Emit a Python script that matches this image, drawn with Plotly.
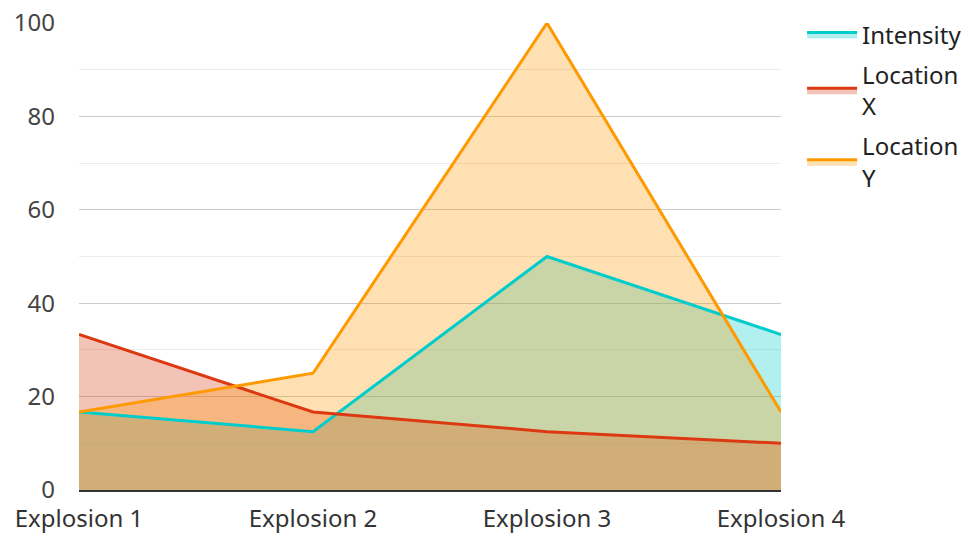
import plotly.graph_objects as go

categories = ["Explosion 1", "Explosion 2", "Explosion 3", "Explosion 4"]
intensity = [16.7, 12.5, 50, 33.3]
location_x = [33.3, 16.7, 12.5, 10]
location_y = [16.7, 25, 100, 16.7]

series = [
    ("Intensity", intensity, "#00cccc", "rgba(0,204,204,0.3)"),
    ("Location<br>X", location_x, "#dc3912", "rgba(220,57,18,0.3)"),
    ("Location<br>Y", location_y, "#ff9900", "rgba(255,153,0,0.3)"),
]

fig = go.Figure()
# fills first
for name, vals, col, fcol in series:
    fig.add_trace(go.Scatter(
        x=categories, y=vals, mode="lines", line=dict(width=0, color=fcol),
        fill="tozeroy", fillcolor=fcol, showlegend=False, legendgroup=name,
        hoverinfo="skip",
    ))
# lines on top
for name, vals, col, fcol in series:
    fig.add_trace(go.Scatter(
        x=categories, y=vals, name=name, mode="lines",
        line=dict(color=col, width=3), showlegend=False, legendgroup=name,
    ))
# legend entries
for name, vals, col, fcol in series:
    fig.add_trace(go.Scatter(
        x=[categories[0]], y=[None], name=name, mode="lines",
        line=dict(color=col, width=3), fill="tozeroy", fillcolor=fcol,
        showlegend=True, legendgroup=name,
    ))

# page body has an 8px margin: figure is 963x525 placed at (8, 8)
fig.update_layout(
    width=963, height=525,
    margin=dict(l=71, r=190, t=15, b=43, autoexpand=False),
    paper_bgcolor="white", plot_bgcolor="white",
    font=dict(family="Noto Sans", size=24, color="#333"),
    legend=dict(x=0.8246, y=0.9916, xref="container", yref="container",
                xanchor="left", yanchor="top",
                font=dict(size=24, color="#222"), tracegroupgap=6,
                itemwidth=50),
    showlegend=True,
)
fig.update_xaxes(
    range=[0, 3], showgrid=False, showline=True, linecolor="#333", linewidth=2,
    ticks="", tickfont=dict(size=24, color="#333"), fixedrange=True,
    automargin=False, ticklabelstandoff=6, ticklabeloverflow="allow",
)
fig.update_yaxes(
    range=[0, 100], dtick=20, showgrid=True, gridcolor="#cccccc", gridwidth=1,
    minor=dict(dtick=10, showgrid=True, gridcolor="#ebebeb", gridwidth=1),
    zeroline=False, ticks="", tickfont=dict(size=24, color="#444"),
    ticklabelstandoff=23, automargin=False, ticklabeloverflow="allow",
)

fig.write_html("out.html")
